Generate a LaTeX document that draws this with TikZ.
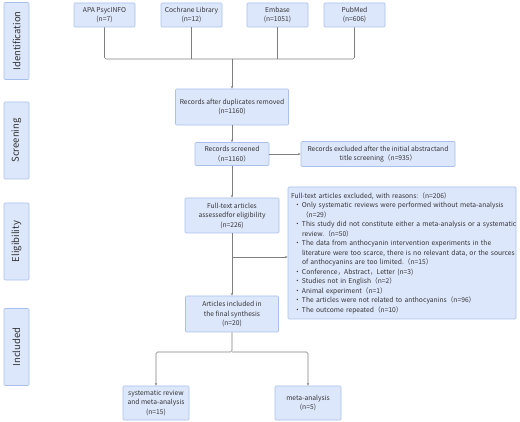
\documentclass[tikz,border=0pt]{standalone}
\usepackage{fontspec}
\setmainfont{Noto Sans CJK SC}
\usetikzlibrary{arrows.meta}
\definecolor{bfill}{HTML}{DDE7FB}
\definecolor{bdraw}{HTML}{A9C0EE}
\definecolor{lgray}{HTML}{7F7F7F}
\definecolor{tgray}{HTML}{333333}
\newcommand\bitem[1]{\mbox{\hspace*{3pt}\makebox[8pt][l]{•}#1}}
\newcommand\bcont[1]{\mbox{\hspace*{11pt}#1}}
\tikzset{
 box/.style={draw=bdraw, fill=bfill, line width=0.7pt, rounded corners=1pt, inner sep=0pt, align=center, text=tgray, font=\fontsize{6.7}{9.5}\selectfont},
 side/.style={box, rotate=90, minimum width=77pt, minimum height=25pt, font=\fontsize{9.5}{11}\selectfont, text=tgray},
 conn/.style={draw=lgray, line width=0.7pt, rounded corners=1.5pt},
 arr/.style={conn, -{Stealth[length=2.6pt,width=2.2pt]}},
}
\begin{document}
\begin{tikzpicture}[x=1pt,y=-1pt]
\useasboundingbox (0,0) rectangle (520,422);
% side labels
\node[side] (s1) at (16.5,41) {Identification};
\node[side] (s2) at (16.5,140.5) {Screening};
\node[side] (s3) at (16.5,241.5) {Eligibility};
\node[side] (s4) at (16.5,347) {Included};
% sources
\node[box, minimum width=61pt, minimum height=24pt] (apa) at (104.5,15) {APA PsycINFO\\(n=7)};
\node[box, minimum width=61pt, minimum height=24pt] (coch) at (191.5,15) {Cochrane Library\\(n=12)};
\node[box, minimum width=61pt, minimum height=24pt] (emb) at (277.5,15) {Embase\\(n=1051)};
\node[box, minimum width=61pt, minimum height=24pt] (pub) at (354.5,15) {PubMed\\(n=606)};
% main chain
\node[box, minimum width=113pt, minimum height=36pt] (dup) at (232,107) {Records after duplicates removed\\(\textit{n}=1160)};
\node[box, minimum width=74pt, minimum height=23pt] (scr) at (232,154) {Records screened\\（n=1160）};
\node[box, minimum width=154pt, minimum height=25pt] (exc1) at (378,154) {Records excluded after the initial abstractand\\title screening（n=935）};
\node[box, minimum width=94pt, minimum height=35pt] (full) at (232,215.5) {Full-text articles\\assessedfor eligibility\\(n=226)};
\node[box, minimum width=228pt, minimum height=132pt, text width=222pt, inner xsep=3pt, align=left] (exc2) at (402,253) {%
\mbox{Full-text articles excluded, with reasons:（n=206）}\\
\bitem{Only systematic reviews were performed without meta-analysis}\\
\bcont{（n=29）}\\
\bitem{This study did not constitute either a meta-analysis or a systematic}\\
\bcont{review.（n=50）}\\
\bitem{The data from anthocyanin intervention experiments in the}\\
\bcont{literature were too scarce, there is no relevant data, or the sources}\\
\bcont{of anthocyanins are too limited.（n=15）}\\
\bitem{Conference，Abstract，Letter (n=3)}\\
\bitem{Studies not in English（n=2）}\\
\bitem{Animal experiment（n=1）}\\
\bitem{The articles were not related to anthocyanins（n=96）}\\
\bitem{The outcome repeated（n=10）}};
\node[box, minimum width=93pt, minimum height=36pt] (inc) at (232,314) {Articles included in\\the final synthesis\\(n=20)};
\node[box, minimum width=66pt, minimum height=34pt] (sr) at (156,403) {systematic review\\and meta-analysis\\(n=15)};
\node[box, minimum width=66pt, minimum height=34pt] (meta) at (308,403) {meta-analysis\\(n=5)};
% connectors
\coordinate (jn) at (232,59);
\draw[conn] (apa.south) |- (jn);
\draw[conn] (pub.south) |- (jn);
\draw[conn] (coch.south) -- (coch.south |- jn);
\draw[conn] (emb.south) -- (emb.south |- jn);
\draw[arr] (jn) -- (dup.north);
\draw[arr] (dup.south) -- (scr.north);
\draw[arr] (scr.east) -- (exc1.west);
\draw[arr] (scr.south) -- (full.north);
\draw[arr] (full.south) -- (inc.north);
\coordinate (br) at (232,257);
\draw[arr] (br) -- (br -| exc2.west);
\coordinate (sp) at (232,352);
\draw[arr] (inc.south) -- (sp) -| (sr.north);
\draw[arr] (sp) -| (meta.north);
\end{tikzpicture}
\end{document}
